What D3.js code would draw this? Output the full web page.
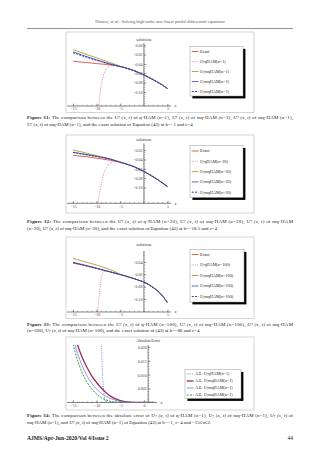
<!DOCTYPE html>
<html lang="en">
<head>
<meta charset="utf-8" />
<title>Figures 31-34</title>
<script src="https://cdnjs.cloudflare.com/ajax/libs/d3/7.8.5/d3.min.js"></script>
<style>
  body { margin: 0; background: #fff; }
  svg { display: block; font-family: "Liberation Serif", "DejaVu Serif", serif; }
</style>
</head>
<body>
<svg id="page" width="320" height="452"></svg>
<script>
// ---- data ----
const xs = [-15,-14,-13,-12,-11,-10,-9,-8,-7,-6,-5,-4,-3,-2,-1,0,1,2,3,4,5];
const xTicks = [-15, -10, -5, 5];

// Figure 31 (n=1)
const fig31Exact = [-0.034,-0.035,-0.036,-0.037,-0.038,-0.039,-0.040,-0.041,-0.042,-0.0435,-0.0455,-0.048,-0.051,-0.0545,-0.0588,-0.0635,-0.0685,-0.0738,-0.0795,-0.0857,-0.0925];
const fig31Mq1 = [-0.009,-0.0128,-0.0165,-0.020,-0.0235,-0.027,-0.0305,-0.034,-0.0375,-0.041,-0.0448,-0.048,-0.051,-0.0545,-0.0588,-0.0635,-0.0685,-0.0738,-0.0795,-0.0857,-0.0925];
const fig31Mq2 = [-0.014,-0.0175,-0.021,-0.0245,-0.028,-0.0312,-0.0343,-0.0372,-0.040,-0.0428,-0.0454,-0.048,-0.051,-0.0545,-0.0588,-0.0635,-0.0685,-0.0738,-0.0795,-0.0857,-0.0925];
const fig31Mq3 = [-0.016,-0.0193,-0.0226,-0.0259,-0.0291,-0.0322,-0.0352,-0.0381,-0.0408,-0.0432,-0.0455,-0.048,-0.051,-0.0545,-0.0588,-0.0635,-0.0685,-0.0738,-0.0795,-0.0857,-0.0925];
const fig31QX = [-9.6,-9.4,-9.2,-9,-8.8,-8.5,-8,-7.5,-7,-6,-5,-4,-3,-2,-1,0,1,2,3,4,5];
const fig31Q = [-0.135,-0.114,-0.097,-0.083,-0.074,-0.063,-0.052,-0.046,-0.0425,-0.0435,-0.0455,-0.048,-0.051,-0.0545,-0.0588,-0.0635,-0.0685,-0.0738,-0.0795,-0.0857,-0.0925];
const yTicks31 = [0, -0.02, -0.04, -0.06, -0.08, -0.10];

// Figure 32 (n=20)
const fig32Exact = [-0.031,-0.032,-0.033,-0.034,-0.0355,-0.037,-0.0385,-0.040,-0.0417,-0.0436,-0.0459,-0.0487,-0.052,-0.0558,-0.0604,-0.0655,-0.0712,-0.0772,-0.0837,-0.0907,-0.098];
const fig32Mq1 = [-0.019,-0.0215,-0.024,-0.0265,-0.029,-0.0315,-0.034,-0.0365,-0.039,-0.042,-0.0455,-0.0487,-0.052,-0.0558,-0.0604,-0.0655,-0.0712,-0.0772,-0.0837,-0.0907,-0.098];
const fig32Mq2 = [-0.024,-0.0258,-0.0276,-0.0294,-0.0312,-0.033,-0.0348,-0.0368,-0.0392,-0.0425,-0.0457,-0.0487,-0.052,-0.0558,-0.0604,-0.0655,-0.0712,-0.0772,-0.0837,-0.0907,-0.098];
const fig32Mq3 = [-0.025,-0.0267,-0.0284,-0.0301,-0.0318,-0.0335,-0.0353,-0.0372,-0.0395,-0.0427,-0.0458,-0.0487,-0.052,-0.0558,-0.0604,-0.0655,-0.0712,-0.0772,-0.0837,-0.0907,-0.098];
const fig32QX = [-9.8,-9.5,-9.2,-8.9,-8.5,-8,-7.5,-7,-6.5,-6,-5,-4,-3,-2,-1,0,1,2,3,4,5];
const fig32Q = [-0.14,-0.118,-0.102,-0.0875,-0.0705,-0.059,-0.051,-0.047,-0.0448,-0.0436,-0.0459,-0.0487,-0.052,-0.0558,-0.0604,-0.0655,-0.0712,-0.0772,-0.0837,-0.0907,-0.098];
const yTicks32 = [-0.02, -0.04, -0.06, -0.08, -0.10];

// Figure 33 (n=100)
const fig33Exact = [-0.0417,-0.0434,-0.0451,-0.0469,-0.0487,-0.0506,-0.0525,-0.0544,-0.0563,-0.0583,-0.0603,-0.0625,-0.0648,-0.0672,-0.0698,-0.0725,-0.0765,-0.0815,-0.0875,-0.0955,-0.106];
const fig33Mq1 = [-0.034,-0.0362,-0.0384,-0.0406,-0.0428,-0.045,-0.0475,-0.050,-0.0528,-0.0562,-0.0598,-0.0625,-0.0648,-0.0672,-0.0698,-0.0725,-0.0765,-0.0815,-0.0875,-0.0955,-0.106];
const fig33Mq2 = [-0.0405,-0.0423,-0.0441,-0.046,-0.0479,-0.0499,-0.052,-0.0542,-0.0563,-0.0583,-0.0603,-0.0625,-0.0648,-0.0672,-0.0698,-0.0725,-0.0765,-0.0815,-0.0875,-0.0955,-0.106];
const fig33Mq3 = [-0.041,-0.0428,-0.0446,-0.0464,-0.0483,-0.0503,-0.0523,-0.0544,-0.0563,-0.0583,-0.0603,-0.0625,-0.0648,-0.0672,-0.0698,-0.0725,-0.0765,-0.0815,-0.0875,-0.0955,-0.106];
const fig33QX = [-10,-9.85,-9.6,-9.4,-9.2,-9,-8.6,-8,-7,-6,-5,-4,-3,-2,-1,0,1,2,3,4,5];
const fig33Q = [-0.135,-0.123,-0.104,-0.092,-0.077,-0.066,-0.0565,-0.0548,-0.0563,-0.0583,-0.0603,-0.0625,-0.0648,-0.0672,-0.0698,-0.0725,-0.0765,-0.0815,-0.0875,-0.0955,-0.106];
const yTicks33 = [-0.04, -0.06, -0.08, -0.10];

// Figure 34 (absolute errors, -15 <= x <= 2)
const xs34 = [-15,-14,-13,-12,-11,-10,-9,-8,-7,-6,-5,-4,-3,-2,-1,0,1,2];
const fig34Mq1 = [0.026,0.0205,0.016,0.0125,0.0095,0.0072,0.0052,0.0035,0.0022,0.0013,0.0007,0.0003,0.0001,0,0,0,0,0];
const fig34Mq2 = [0.023,0.0175,0.013,0.0095,0.0068,0.0048,0.0033,0.0022,0.0014,0.0008,0.0004,0.0002,0.0001,0,0,0,0,0];
const fig34Mq3 = [0.021,0.015,0.0105,0.0072,0.0048,0.003,0.0017,0.0009,0.0004,0.0002,0.0001,0,0,0,0,0,0,0];
const fig34QX = [-9.05,-8.95,-8.8,-8.6,-8.4,-8.2,-8,-7,2];
const fig34Q = [0.026,0.02,0.012,0.006,0.0025,0.0008,0.0002,0,0];
const yTicks34 = [0.005, 0.010, 0.015, 0.020];
const xTicks34 = [-15, -10, -5, 0];

const captions = {
  31: ["**Figure 31:** The comparison between the U_7 (x, t) of q-HAM (n=1), U_7 (x, t) of mq-HAM (n=1), U_7 (x, t) of mq-HAM (n=1),",
       "U_7 (x, t) of mq-HAM (n=1), and the exact solution of Equation (43) at h=−1 and c=4"],
  32: ["**Figure 32:** The comparison between the U_7 (x, t) of q-HAM (n=20), U_7 (x, t) of mq-HAM (n=20), U_7 (x, t) of mq-HAM",
       "(n=20), U_7 (x, t) of mq-HAM (n=20), and the exact solution of Equation (43) at h=−18.5 and c=4"],
  33: ["**Figure 33:** The comparison between the U_7 (x, t) of q-HAM (n=100), U_7 (x, t) of mq-HAM (n=100), U_7 (x, t) of mq-HAM",
       "(n=100), U_7 (x, t) of mq-HAM (n=100), and the exact solution of (43) at h=−86 and c=4"],
  34: ["**Figure 34:** The comparison between the absolute error of U_7 (x, t) of q-HAM (n=1), U_7 (x, t) of mq-HAM (n=1), U_7 (x, t) of",
       "mq-HAM (n=1), and U_7 (x, t) of mq-HAM (n=1) of Equation (43) at h=−1, c=4 and −15≤x≤2."]
};

// ---- styles ----
const RED = "#e8473c", PINK = "#c8507a", OLIVE = "#a89c2c", BLUE = "#4a5fc8", NAVY = "#1f2f8a";
const solStyles = [
  { color: RED, w: 0.9 },
  { color: PINK, w: 0.8, dash: "0.7 1.1" },
  { color: OLIVE, w: 0.9 },
  { color: BLUE, w: 0.9 },
  { color: NAVY, w: 0.9, dash: "2 1.2" }
];

const svg = d3.select("#page");
const x = d3.scaleLinear().domain([-15, 5]).range([73, 167.5]);

// helper: caption-like rich text (bold, italic U with subscript)
function richText(sel, str) {
  let pendingDy = 0;
  str.split(/(\*\*[^*]+\*\*|U_7|\(x, t\))/).forEach(tok => {
    if (!tok) return;
    let t;
    if (tok.startsWith("**")) {
      t = sel.append("tspan").attr("font-weight", "bold").text(tok.slice(2, -2));
    } else if (tok === "U_7") {
      t = sel.append("tspan").attr("font-style", "italic").text("U");
      if (pendingDy) t.attr("dy", pendingDy);
      sel.append("tspan").attr("font-size", "70%").attr("dy", 0.9).text("7");
      pendingDy = -0.9;
      return;
    } else if (tok === "(x, t)") {
      t = sel.append("tspan").attr("font-style", "italic").text(tok);
    } else {
      t = sel.append("tspan").text(tok);
    }
    if (pendingDy) { t.attr("dy", pendingDy); pendingDy = 0; }
  });
}

// header
const head = svg.append("text").attr("x", 160).attr("y", 23).attr("text-anchor", "middle")
  .attr("font-size", 4.4).attr("fill", "#555");
head.append("tspan").text("Hussen, ");
head.append("tspan").attr("font-style", "italic").text("et al.");
head.append("tspan").text(": Solving high-order non-linear partial differential equations");
svg.append("line").attr("x1", 27).attr("x2", 293).attr("y1", 28.5).attr("y2", 28.5)
  .attr("stroke", "#777").attr("stroke-width", 0.8);

const solNames = n => ["Exact", `U_7qHAM(n=${n})`, `U_7mqHAM(n=${n})`, `U_7mqHAM(n=${n})`, `U_7mqHAM(n=${n})`];

const panels = [
  { id: 31, box: [66, 32, 254, 112.5], yDom: [0.005, -0.13], yRange: [43, 106], yAxisAt: 0,
    yTicks: yTicks31, fmt: ".2f", minor: 0.005, xTicks: xTicks, yLabel: "solutions", yLabelY: 40.5,
    xEnd: 171, xLabelX: 174.5, legend: { x: 190, y: 46.5, w: 53, h: 49.5, y0: 51.5, dy: 10 },
    names: solNames(1), styles: solStyles,
    series: [[xs, fig31Exact], [fig31QX, fig31Q], [xs, fig31Mq1], [xs, fig31Mq2], [xs, fig31Mq3]],
    cap: captions[31], capY: [118.5, 125.5] },
  { id: 32, box: [66, 135, 254, 213], yDom: [-0.005, -0.134], yRange: [143.3, 203.3], yAxisAt: 0,
    yTicks: yTicks32, fmt: ".2f", minor: 0.005, xTicks: xTicks, yLabel: "solutions", yLabelY: 140.5,
    xEnd: 171, xLabelX: 174.5, legend: { x: 190, y: 145.5, w: 53, h: 52, y0: 151, dy: 10.3 },
    names: solNames(20), styles: solStyles,
    series: [[xs, fig32Exact], [fig32QX, fig32Q], [xs, fig32Mq1], [xs, fig32Mq2], [xs, fig32Mq3]],
    cap: captions[32], capY: [222.5, 229.5] },
  { id: 33, box: [66, 237, 254, 318.5], yDom: [-0.0222, -0.121], yRange: [251, 312], yAxisAt: 0,
    yTicks: yTicks33, fmt: ".2f", minor: 0.005, xTicks: xTicks, yLabel: "solutions", yLabelY: 246,
    xEnd: 171, xLabelX: 174.5, legend: { x: 190, y: 249.5, w: 54, h: 52.5, y0: 254.5, dy: 10.5 },
    names: solNames(100), styles: solStyles,
    series: [[xs, fig33Exact], [fig33QX, fig33Q], [xs, fig33Mq1], [xs, fig33Mq2], [xs, fig33Mq3]],
    cap: captions[33], capY: [325.5, 332] },
  { id: 34, box: [66, 337, 254, 410], yDom: [0.0207, 0], yRange: [345, 402.5], yAxisAt: 0.9,
    yTicks: yTicks34, fmt: ".3f", minor: 0.001, xTicks: xTicks34, yLabel: "AbsoluteError", yLabelY: 341.8,
    xEnd: 157, xLabelX: 160.5, legend: { x: 185, y: 369.5, w: 56, h: 29, y0: 374, dy: 7 },
    names: ["A.E. U_7qHAM(n=1)", "A.E. U_7mqHAM(n=1)", "A.E. U_7mqHAM(n=1)", "A.E. U_7mqHAM(n=1)"],
    styles: [
      { color: "#3a55c8", w: 0.8, dash: "0.7 1.1" },
      { color: "#9c2a5a", w: 1.3 },
      { color: "#7b7fe0", w: 0.8 },
      { color: "#2e9e3e", w: 1.0, dash: "2 1.2" }
    ],
    series: [[fig34QX, fig34Q], [xs34, fig34Mq1], [xs34, fig34Mq2], [xs34, fig34Mq3]],
    cap: captions[34], capY: [417, 423.5] }
];

panels.forEach(p => {
  const g = svg.append("g");
  const [bx0, by0, bx1, by1] = p.box;
  g.append("rect").attr("x", bx0).attr("y", by0).attr("width", bx1 - bx0).attr("height", by1 - by0)
    .attr("fill", "#fff").attr("stroke", "#c4c4c4").attr("stroke-width", 0.7);

  const y = d3.scaleLinear().domain(p.yDom).range(p.yRange);
  const ax = x(p.yAxisAt);
  const axY = p.yRange[1];

  // minor ticks
  const [yLo, yHi] = d3.extent(p.yDom);
  const yMinor = d3.range(Math.ceil(yLo / p.minor) * p.minor, yHi, p.minor);
  g.append("g").selectAll("line").data(yMinor).join("line")
    .attr("x1", ax).attr("x2", ax + 1.3).attr("y1", d => y(d)).attr("y2", d => y(d))
    .attr("stroke", "#555").attr("stroke-width", 0.4);
  const xMinor = d3.range(-15, x.invert(p.xEnd), 1);
  g.append("g").selectAll("line").data(xMinor).join("line")
    .attr("x1", d => x(d)).attr("x2", d => x(d)).attr("y1", axY).attr("y2", axY - 1.3)
    .attr("stroke", "#555").attr("stroke-width", 0.4);

  // major axes
  const xa = g.append("g").attr("transform", `translate(0,${axY})`)
    .call(d3.axisBottom(x).tickValues(p.xTicks).tickSize(-2.3).tickPadding(1.4).tickFormat(d3.format("d")));
  const ya = g.append("g").attr("transform", `translate(${ax},0)`)
    .call(d3.axisLeft(y).tickValues(p.yTicks).tickSize(-2.3).tickPadding(1.3).tickFormat(d3.format(p.fmt)));
  [xa, ya].forEach(a => {
    a.attr("font-family", null).attr("font-size", 4);
    a.select(".domain").remove();
    a.selectAll(".tick line").attr("stroke", "#444").attr("stroke-width", 0.5);
    a.selectAll(".tick text").attr("fill", "#444");
  });
  xa.selectAll(".tick text").attr("dy", "0.71em");
  g.append("line").attr("x1", 67).attr("x2", p.xEnd).attr("y1", axY).attr("y2", axY)
    .attr("stroke", "#333").attr("stroke-width", 0.6);
  g.append("line").attr("x1", ax).attr("x2", ax).attr("y1", p.yRange[0]).attr("y2", axY)
    .attr("stroke", "#333").attr("stroke-width", 0.6);
  g.append("text").attr("x", p.xLabelX).attr("y", axY + 1.3).attr("font-size", 4.3)
    .attr("font-style", "italic").attr("fill", "#333").text("x");
  g.append("text").attr("x", ax).attr("y", p.yLabelY).attr("text-anchor", "middle")
    .attr("font-size", 4.2).attr("fill", "#333").text(p.yLabel);

  // curves
  const clipId = "clip" + p.id;
  svg.append("clipPath").attr("id", clipId).append("rect")
    .attr("x", 67).attr("y", p.yRange[0]).attr("width", p.xEnd - 67).attr("height", axY - p.yRange[0]);
  const line = d3.line().x(d => x(d[0])).y(d => y(d[1])).curve(d3.curveMonotoneX);
  p.series.forEach((s, i) => {
    const st = p.styles[i];
    g.append("path").datum(d3.zip(s[0], s[1])).attr("clip-path", `url(#${clipId})`)
      .attr("d", line).attr("fill", "none").attr("stroke", st.color)
      .attr("stroke-width", st.w).attr("stroke-dasharray", st.dash || null);
  });

  // legend with drop shadow
  const L = p.legend;
  g.append("rect").attr("x", L.x + 2.4).attr("y", L.y + 2.4).attr("width", L.w).attr("height", L.h).attr("fill", "#000");
  g.append("rect").attr("x", L.x).attr("y", L.y).attr("width", L.w).attr("height", L.h)
    .attr("fill", "#fff").attr("stroke", "#999").attr("stroke-width", 0.5);
  p.names.forEach((name, i) => {
    const st = p.styles[i];
    const cy = L.y0 + i * L.dy;
    g.append("line").attr("x1", L.x + 1.8).attr("x2", L.x + 8.5).attr("y1", cy).attr("y2", cy)
      .attr("stroke", st.color).attr("stroke-width", st.w).attr("stroke-dasharray", st.dash || null);
    const t = g.append("text").attr("x", L.x + 10).attr("y", cy + 1.4).attr("font-size", 4.2).attr("fill", "#222");
    richText(t, name);
  });

  // caption
  p.cap.forEach((c, i) => {
    const t = svg.append("text").attr("x", 27).attr("y", p.capY[i]).attr("font-size", 4.9).attr("fill", "#222");
    richText(t, c);
    if (i === 0) t.attr("textLength", 266).attr("lengthAdjust", "spacing");
  });
});

// footer
svg.append("text").attr("x", 27).attr("y", 440).attr("font-size", 5.6).attr("font-weight", "bold")
  .attr("fill", "#222").text("AJMS/Apr-Jun-2020/Vol 4/Issue 2");
svg.append("text").attr("x", 293).attr("y", 440).attr("font-size", 5.6).attr("text-anchor", "end")
  .attr("fill", "#222").text("44");
</script>
</body>
</html>
